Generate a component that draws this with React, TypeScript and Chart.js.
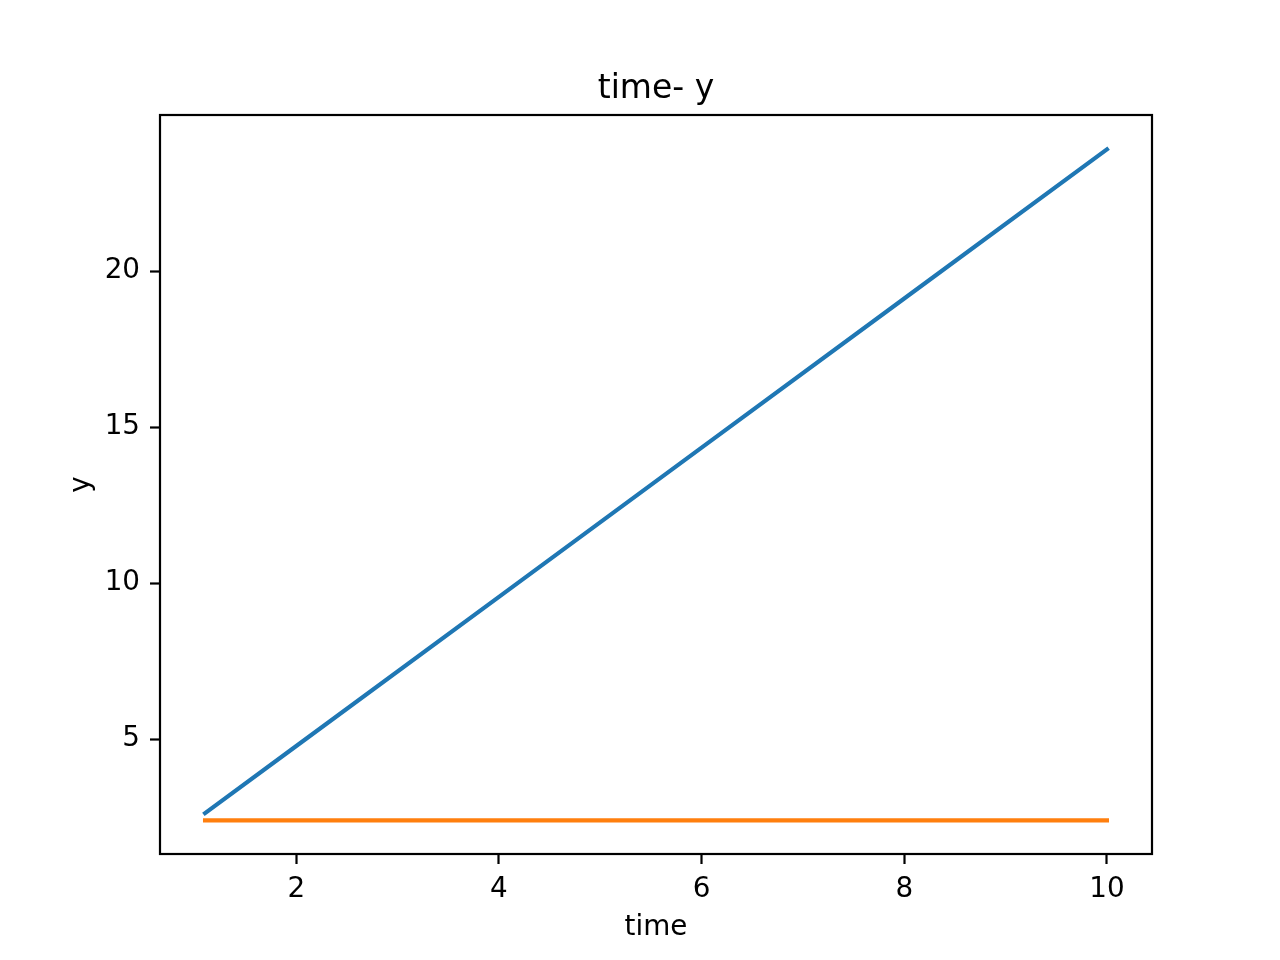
import { useEffect, useRef } from "react";
import { Chart, registerables } from "chart.js";
import type { Plugin } from "chart.js";

Chart.register(...registerables);

// values
const blueTime = [1.1, 2, 4, 6, 8, 10];
const blueY = [2.63, 4.78, 9.56, 14.34, 19.12, 23.9];
const orangeTime = [1.1, 10];
const orangeY = [2.4, 2.4];

const xTicks = [2, 4, 6, 8, 10];
const yTicks = [5, 10, 15, 20];
const xRange = [0.655, 10.445];
const yRange = [1.32, 25.0];

const titleText = "time- y";
const font = "'DejaVu Sans', sans-serif";

// matplotlib draws a frame on all four sides
const frame: Plugin = {
  id: "frame",
  afterDatasetsDraw(chart) {
    const { ctx, chartArea } = chart;
    ctx.save();
    ctx.strokeStyle = "#000";
    ctx.lineWidth = 2.2;
    ctx.strokeRect(chartArea.left, chartArea.top, chartArea.right - chartArea.left, chartArea.bottom - chartArea.top);
    ctx.restore();
  }
};

// title centred over the plot area, as matplotlib does
const axesTitle: Plugin = {
  id: "axesTitle",
  afterDraw(chart) {
    const { ctx, chartArea } = chart;
    ctx.save();
    ctx.fillStyle = "#000";
    ctx.font = `33px ${font}`;
    ctx.textAlign = "center";
    ctx.textBaseline = "alphabetic";
    ctx.fillText(titleText, (chartArea.left + chartArea.right) / 2, chartArea.top - 17);
    ctx.restore();
  }
};

export default function App() {
  const canvasRef = useRef<HTMLCanvasElement | null>(null);

  useEffect(() => {
    document.body.style.margin = "0";
    if (!canvasRef.current) {
      return undefined;
    }

    const ticksGrid = {
      display: true,
      drawOnChartArea: false,
      drawTicks: true,
      tickLength: 10,
      tickWidth: 2.2,
      tickColor: "#000"
    };

    const chart = new Chart(canvasRef.current, {
      type: "line",
      data: {
        datasets: [
          {
            data: blueTime.map((t, i) => ({ x: t, y: blueY[i] })),
            borderColor: "#1f77b4",
            borderWidth: 4.2,
            borderCapStyle: "square",
            pointRadius: 0,
            tension: 0
          },
          {
            data: orangeTime.map((t, i) => ({ x: t, y: orangeY[i] })),
            borderColor: "#ff7f0e",
            borderWidth: 4.2,
            borderCapStyle: "square",
            pointRadius: 0,
            tension: 0
          }
        ]
      },
      options: {
        responsive: false,
        devicePixelRatio: 1,
        animation: false,
        layout: { padding: { left: 0, right: 128, top: 115, bottom: 0 } },
        plugins: {
          legend: { display: false },
          tooltip: { enabled: false },
          title: { display: false }
        },
        scales: {
          x: {
            type: "linear",
            min: xRange[0],
            max: xRange[1],
            border: { display: false },
            grid: ticksGrid,
            afterBuildTicks: (scale) => {
              scale.ticks = xTicks.map((value) => ({ value }));
            },
            afterFit: (scale) => {
              scale.height = 106;
            },
            ticks: {
              color: "#000",
              padding: 9,
              maxRotation: 0,
              font: { family: font, size: 27.8 }
            },
            title: {
              display: true,
              text: "time",
              color: "#000",
              font: { family: font, size: 27.8 },
              padding: { top: 0, bottom: 16 }
            }
          },
          y: {
            type: "linear",
            min: yRange[0],
            max: yRange[1],
            border: { display: false },
            grid: ticksGrid,
            afterBuildTicks: (scale) => {
              scale.ticks = yTicks.map((value) => ({ value }));
            },
            afterFit: (scale) => {
              scale.width = 160;
            },
            ticks: {
              color: "#000",
              padding: 10,
              font: { family: font, size: 27.8 }
            },
            title: {
              display: true,
              text: "y",
              color: "#000",
              font: { family: font, size: 27.8 },
              padding: { top: 65, bottom: 0 }
            }
          }
        }
      },
      plugins: [frame, axesTitle]
    });

    return () => chart.destroy();
  }, []);

  return (
    <div style={{ width: 1280, height: 960, background: "#fff" }}>
      <canvas ref={canvasRef} width={1280} height={960} aria-label={titleText} />
    </div>
  );
}
